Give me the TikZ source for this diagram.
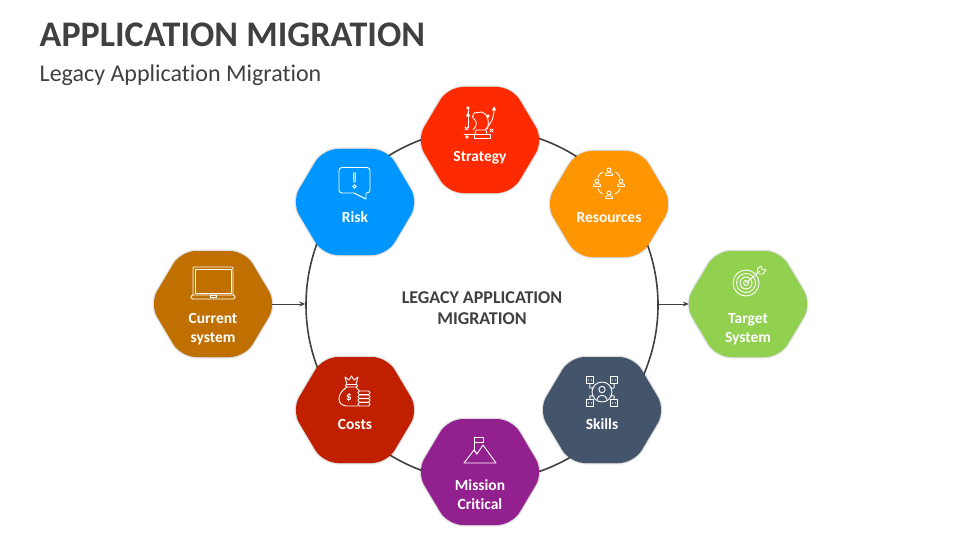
\documentclass[tikz,border=0pt]{standalone}
\usepackage{fontspec}
\setmainfont[Ligatures=NoCommon]{Carlito}
\usetikzlibrary{arrows.meta}
\definecolor{ink}{HTML}{404040}
\definecolor{cStrategy}{HTML}{FF2A00}
\definecolor{cResources}{HTML}{FF9500}
\definecolor{cTarget}{HTML}{92D050}
\definecolor{cSkills}{HTML}{44546A}
\definecolor{cMission}{HTML}{92208F}
\definecolor{cCosts}{HTML}{C01F00}
\definecolor{cRisk}{HTML}{0096FF}
\definecolor{cCurrent}{HTML}{BF7000}
\tikzset{
  hexbox/.style={rectangle,minimum width=118pt,minimum height=106pt,inner sep=0pt},
  hexlabel/.style={text=white,font=\fontsize{15.5}{19}\selectfont\bfseries,align=center,inner sep=0pt},
  icon/.style={draw=white,line width=0.9pt,fill=none,line cap=round,line join=round},
  flow/.style={draw=ink,line width=1pt,-{Stealth[length=6pt,width=5pt]}},
}
\newcommand{\hexpath}{(-63.5,0) -- (-32,-53) -- (32,-53) -- (63.5,0) -- (32,53) -- (-32,53) -- cycle}
% name, x, y, colour, label dy, label, icon
\newcommand{\hexa}[7]{%
  \begin{scope}[shift={(#2,#3)},rounded corners=15pt]
    \foreach \w/\o in {3.5/.03,2.5/.05,1.5/.08}{
      \draw[black,line width=\w pt,opacity=\o] \hexpath;}
    \fill[#4] \hexpath;
  \end{scope}
  \node[hexbox] (#1) at (#2,#3) {};
  \node[hexlabel] (#1Label) at (#2,#3+#5) {#6};
  \begin{scope}[shift={(#2,#3)},icon]
    #7
  \end{scope}}
\newcommand{\person}[2]{%
  \draw[icon] (#1,#2-2) circle (2pt);
  \draw[icon] (#1-3.5,#2+3.5) -- (#1-3.5,#2+2) .. controls (#1-3.5,#2+.3) and (#1+3.5,#2+.3) .. (#1+3.5,#2+2) -- (#1+3.5,#2+3.5) -- cycle;}
\begin{document}
\begin{tikzpicture}[x=1pt,y=-1pt]
\useasboundingbox (0,0) rectangle (960,540);
\fill[white] (0,0) rectangle (960,540);
\node[anchor=west,inner sep=0pt,text=ink,font=\fontsize{36}{40}\selectfont\bfseries] (title) at (39.5,35) {APPLICATION MIGRATION};
\node[anchor=west,inner sep=0pt,text=ink,font=\fontsize{24}{26}\selectfont] (subtitle) at (39.5,75) {Legacy Application Migration};
\node[circle,draw=ink,line width=1.6pt,minimum size=352pt,inner sep=0pt,align=center,text=ink,font=\fontsize{18}{21}\selectfont\bfseries] (ring) at (482,305) {\rule{0pt}{18pt}LEGACY APPLICATION\\MIGRATION};

\hexa{strategy}{480}{140}{cStrategy}{17.5}{Strategy}{
  \draw (-12,-30) -- (-12,-12);
  \draw[fill=white] (-12,-27) -- (-13.5,-24) -- (-10.5,-24) -- cycle;
  \draw (-12,-32) circle (1.2pt);
  \draw (-7,-10) .. controls (-3,-14) and (-3,-18) .. (-5,-20) .. controls (-8,-22) and (-8,-25) .. (-6,-27) -- (2,-28) .. controls (8,-26) and (10,-18) .. (7,-11);
  \draw (-5,-6) -- (-4,-10) -- (6,-10) -- (7,-6);
  \draw (-16,-6) -- (9,-6);
  \draw (-6,-2) rectangle (10,-5.5);
  \draw (5,-10) .. controls (11,-16) and (14,-22) .. (14,-31);
  \draw[fill=white] (14,-33) -- (12.5,-30) -- (15.5,-30) -- cycle;
  \draw (-15,-13) -- (-12,-10) (-15,-10) -- (-12,-13);
  \draw (10,-11) -- (13,-8) (10,-8) -- (13,-11);
  \draw (-13,-3) circle (1.2pt);
  \draw (8,-24) circle (1.2pt);
}
\hexa{resources}{609}{204}{cResources}{13.5}{Resources}{
  \person{0}{-32}\person{-12}{-21}\person{12}{-21}\person{0}{-9}
  \draw (-11,-26.5) .. controls (-9.5,-30) .. (-6,-32);
  \draw (11,-26.5) .. controls (9.5,-30) .. (6,-32);
  \draw (-11,-15.5) .. controls (-9.5,-12) .. (-6,-10);
  \draw (11,-15.5) .. controls (9.5,-12) .. (6,-10);
}
\hexa{target}{748}{304}{cTarget}{25}{Target\\System}{
  \draw (-2,-21) circle (13pt);
  \draw (-2,-21) circle (9.5pt);
  \draw (-2,-21) circle (6pt);
  \draw (-2,-21) circle (2.5pt);
  \draw (-2,-21) -- (12,-33);
  \draw (9,-31) -- (10,-36) -- (13,-38) -- (14,-35) -- (18,-34) -- (15,-30) -- (11,-30);
}
\hexa{skills}{602}{410}{cSkills}{14}{Skills}{
  \draw[rounded corners=0pt] (-15.5,-33.5) rectangle (-8.5,-26.5);
  \draw[rounded corners=0pt] (8.5,-33.5) rectangle (15.5,-26.5);
  \draw[rounded corners=0pt] (-15.5,-10.5) rectangle (-8.5,-3.5);
  \draw[rounded corners=0pt] (8.5,-10.5) rectangle (15.5,-3.5);
  \foreach \a in {-12,12}{\foreach \b in {-30,-7}{
    \fill[white] (\a-1.5,\b) circle (.6pt) (\a+1.5,\b) circle (.6pt);}}
  \draw (0,-18) circle (10pt);
  \draw (0,-20.5) circle (3.2pt);
  \draw (-5,-10.5) .. controls (-5,-16) and (5,-16) .. (5,-10.5);
  \draw (-12,-26) .. controls (-12,-21) and (-14,-22) .. (-8,-22) (12,-26) .. controls (12,-21) and (14,-22) .. (8,-22);
  \draw (-12,-11) .. controls (-12,-15) and (-14,-14) .. (-8,-14) (12,-11) .. controls (12,-15) and (14,-14) .. (8,-14);
}
\hexa{mission}{480}{472}{cMission}{23}{Mission\\Critical}{
  \draw (-6,-22) -- (-6,-35);
  \draw[rounded corners=0pt] (-6,-35) rectangle (3,-29.5);
  \draw[rounded corners=0pt] (-16,-9) -- (16,-9) -- (3,-27) -- (-3,-18) -- (-6,-22) -- cycle;
  \draw (-6,-22) -- (-3,-18);
}
\hexa{costs}{355}{410}{cCosts}{14}{Costs}{
  \draw (-8,-23) .. controls (-14,-19) and (-16,-15) .. (-16,-11) .. controls (-16,-6) and (-12,-4) .. (-8,-4) -- (3,-4);
  \draw (1,-23) .. controls (2.5,-22) .. (4,-19.5);
  \draw[rounded corners=1pt] (-9.5,-25.5) rectangle (2.5,-23);
  \draw[rounded corners=0pt] (-8,-25.5) -- (-10,-33) -- (-6,-30) -- (-3.5,-34) -- (-1,-30) -- (3,-33) -- (1,-25.5);
  \node[text=white,font=\fontsize{11}{11}\selectfont\bfseries,inner sep=0pt,draw=none] at (-6,-12.5) {\$};
  \foreach \t in {-19,-15.2,-11.4,-7.6}{\draw[rounded corners=1.5pt] (3,\t) rectangle (15,\t+3.6);}
}
\hexa{risk}{355}{202}{cRisk}{15}{Risk}{
  \draw[rounded corners=3pt] (-1,-9) -- (-16,-9) -- (-16,-34.5) -- (15,-34.5) -- (15,-9) -- (11,-9);
  \draw (-1,-9) -- (11,-3) -- (11,-9);
  \draw (-1.5,-29) -- (.5,-29) -- (.2,-20) -- (-1.2,-20) -- cycle;
  \draw (-.5,-15.5) circle (1.8pt);
}
\hexa{current}{213}{304}{cCurrent}{25}{Current\\system}{
  \draw[rounded corners=1pt] (-20,-9) -- (-20,-37) -- (20,-37) -- (20,-9);
  \draw[rounded corners=0pt] (-18,-11) rectangle (18,-35);
  \draw[rounded corners=1.5pt] (-22,-9) rectangle (22,-5);
  \draw[rounded corners=0pt] (-3,-9) rectangle (3,-7);
}
\draw[flow] (current.east) -- (ring.west |- current.east);
\draw[flow] (ring.east |- target.west) -- (target.west);
\end{tikzpicture}
\end{document}
